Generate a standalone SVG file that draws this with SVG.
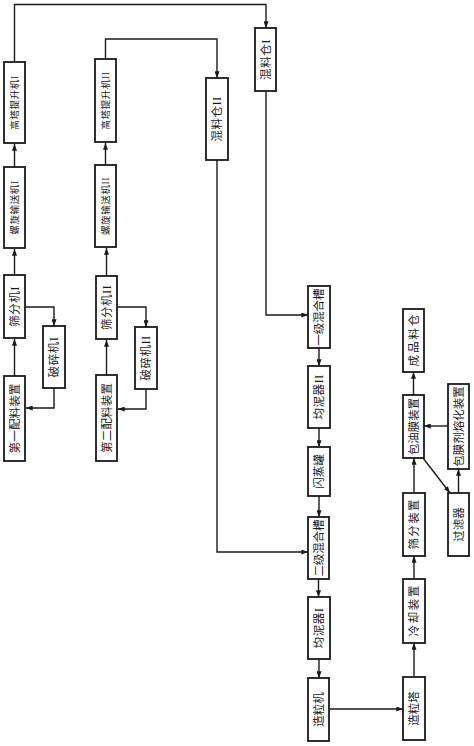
<svg xmlns="http://www.w3.org/2000/svg" width="474" height="746" viewBox="0 0 474 746">
<defs>
<marker id="ah" viewBox="0 0 8 6" refX="8" refY="3" markerWidth="7" markerHeight="5" markerUnits="userSpaceOnUse" orient="auto">
<path d="M0,0 L8,3 L0,6 z" fill="#1a1a1a"/>
</marker>
<style>
rect{fill:#fff;stroke:#1a1a1a;stroke-width:1.8}
text{font-family:"Liberation Serif","Noto Sans CJK SC",serif;font-size:11.5px;fill:#1a1a1a;text-anchor:middle;dominant-baseline:central}
text.s{font-size:9.5px}
text.r{letter-spacing:0.6px}
#connectors path{fill:none;stroke:#1a1a1a;stroke-width:1.4;marker-end:url(#ah)}
</style>
</defs>
<rect x="0" y="0" width="474" height="746" style="fill:#fff;stroke:none"/>
<g id="connectors">
<path d="M14.5,376 V339"/>
<path d="M14.5,275 V249"/>
<path d="M14.5,167 V144"/>
<path d="M14.5,62 V4.5 H266 V28"/>
<path d="M25,307 H54 V326"/>
<path d="M54,388 V408 H26"/>
<path d="M106.5,375 V340"/>
<path d="M106.5,276 V248"/>
<path d="M105.5,165 V143"/>
<path d="M105.5,59 V39 H217 V78"/>
<path d="M117,307 H146 V327"/>
<path d="M146,389 V409 H118"/>
<path d="M266,91 V315 H308"/>
<path d="M217,160 V552 H308"/>
<path d="M319,348 V366"/>
<path d="M319,428 V447"/>
<path d="M319,496 V517"/>
<path d="M318.5,579 V597"/>
<path d="M319,659 V678"/>
<path d="M329,709 H403"/>
<path d="M414,677 V643"/>
<path d="M414,579 V556"/>
<path d="M414,493 V458"/>
<path d="M413.5,395 V372"/>
<path d="M448,426 H424"/>
<path d="M423,458 L450,493"/>
<path d="M458.5,493 V469"/>
</g>
<g id="gt1"><rect x="4" y="62" width="21" height="81"/><text class="s r" transform="rotate(-90 14.5 102.5)" x="14.5" y="102.5">高塔提升机I</text></g>
<g id="lx1"><rect x="4" y="167" width="21" height="81"/><text class="s r" transform="rotate(-90 14.5 207.5)" x="14.5" y="207.5">螺旋输送机I</text></g>
<g id="sf1"><rect x="4" y="275" width="21" height="63"/><text class="r" transform="rotate(-90 14.5 306.5)" x="14.5" y="306.5">筛分机I</text></g>
<g id="ps1"><rect x="43" y="326" width="22" height="62"/><text class="r" transform="rotate(-90 54 357)" x="54" y="357">破碎机I</text></g>
<g id="pl1"><rect x="4" y="376" width="21" height="85"/><text transform="rotate(-90 14.5 418.5)" x="14.5" y="418.5" textLength="70" lengthAdjust="spacing">第一配料装置</text></g>
<g id="gt2"><rect x="95" y="59" width="21" height="83"/><text class="s r" transform="rotate(-90 105.5 100.5)" x="105.5" y="100.5">高塔提升机II</text></g>
<g id="lx2"><rect x="95" y="165" width="21" height="82"/><text class="s r" transform="rotate(-90 105.5 206)" x="105.5" y="206">螺旋输送机II</text></g>
<g id="sf2"><rect x="96" y="276" width="21" height="63"/><text class="r" transform="rotate(-90 106.5 307.5)" x="106.5" y="307.5">筛分机II</text></g>
<g id="ps2"><rect x="135" y="327" width="22" height="62"/><text class="r" transform="rotate(-90 146 358)" x="146" y="358">破碎机II</text></g>
<g id="pl2"><rect x="96" y="375" width="21" height="86"/><text transform="rotate(-90 106.5 418)" x="106.5" y="418" textLength="70" lengthAdjust="spacing">第二配料装置</text></g>
<g id="hl2"><rect x="206" y="78" width="22" height="82"/><text class="r" transform="rotate(-90 217 119)" x="217" y="119">混料仓II</text></g>
<g id="hl1"><rect x="255" y="28" width="21" height="63"/><text class="r" transform="rotate(-90 265.5 59.5)" x="265.5" y="59.5">混料仓I</text></g>
<g id="yj"><rect x="308" y="286" width="22" height="62"/><text transform="rotate(-90 319 317)" x="319" y="317" textLength="57" lengthAdjust="spacing">一级混合槽</text></g>
<g id="jn2"><rect x="308" y="366" width="22" height="62"/><text class="r" transform="rotate(-90 319 397)" x="319" y="397">均泥器II</text></g>
<g id="sz"><rect x="308" y="447" width="22" height="49"/><text transform="rotate(-90 319 471.5)" x="319" y="471.5">闪蒸罐</text></g>
<g id="ej"><rect x="308" y="517" width="21" height="62"/><text transform="rotate(-90 318.5 548)" x="318.5" y="548" textLength="57" lengthAdjust="spacing">二级混合槽</text></g>
<g id="jn1"><rect x="308" y="597" width="22" height="62"/><text class="r" transform="rotate(-90 319 628)" x="319" y="628">均泥器I</text></g>
<g id="zlj"><rect x="308" y="678" width="21" height="63"/><text transform="rotate(-90 318.5 709.5)" x="318.5" y="709.5">造粒机</text></g>
<g id="cp"><rect x="403" y="309" width="21" height="63"/><text transform="rotate(-90 413.5 340.5)" x="413.5" y="340.5" textLength="52" lengthAdjust="spacing">成品料仓</text></g>
<g id="by"><rect x="403" y="395" width="21" height="63"/><text transform="rotate(-90 413.5 426.5)" x="413.5" y="426.5">包油膜装置</text></g>
<g id="sfzz"><rect x="403" y="493" width="22" height="63"/><text transform="rotate(-90 414 524.5)" x="414" y="524.5" textLength="50" lengthAdjust="spacing">筛分装置</text></g>
<g id="lq"><rect x="403" y="579" width="22" height="64"/><text transform="rotate(-90 414 611)" x="414" y="611" textLength="51" lengthAdjust="spacing">冷却装置</text></g>
<g id="zlt"><rect x="403" y="677" width="22" height="63"/><text transform="rotate(-90 414 708.5)" x="414" y="708.5">造粒塔</text></g>
<g id="bm"><rect x="448" y="384" width="21" height="85"/><text transform="rotate(-90 458.5 426.5)" x="458.5" y="426.5">包膜剂熔化装置</text></g>
<g id="gl"><rect x="448" y="493" width="21" height="63"/><text transform="rotate(-90 458.5 524.5)" x="458.5" y="524.5">过滤器</text></g>
</svg>
